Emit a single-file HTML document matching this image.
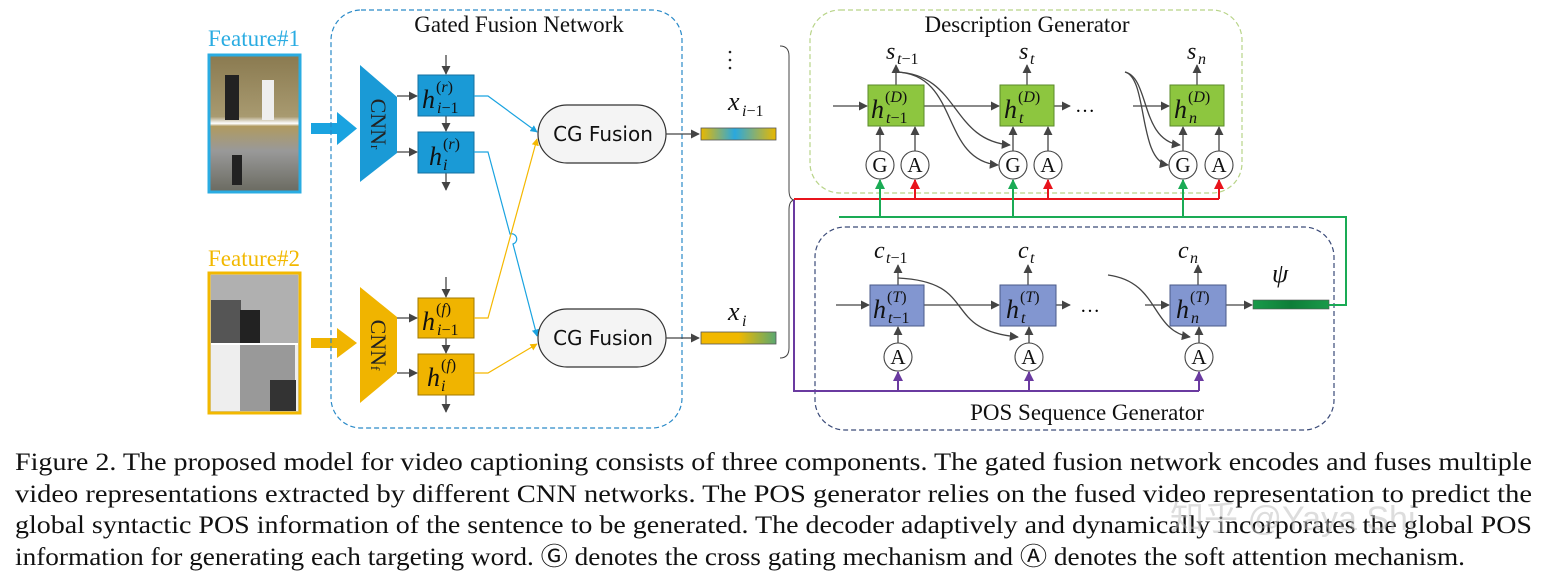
<!DOCTYPE html>
<html><head><meta charset="utf-8"><style>
html,body{margin:0;padding:0;background:#fff;}
svg{display:block;}
.t{font-family:"Liberation Serif",serif;}
.m{font-family:"Liberation Serif",serif;font-style:italic;}
.n{font-family:"Liberation Serif",serif;font-style:normal;}
.s{font-family:"DejaVu Sans","Liberation Sans",sans-serif;}
</style></head><body>
<svg width="1543" height="583" viewBox="0 0 1543 583" xmlns="http://www.w3.org/2000/svg">
<defs>
<marker id="ah" viewBox="0 0 10 10" refX="9" refY="5" markerWidth="7" markerHeight="7" orient="auto-start-reverse"><path d="M0,0L10,5L0,10z" fill="#444"/></marker>
<marker id="ab" viewBox="0 0 10 10" refX="9" refY="5" markerWidth="6" markerHeight="6" orient="auto"><path d="M0,0L10,5L0,10z" fill="#1aa3e0"/></marker>
<marker id="ay" viewBox="0 0 10 10" refX="9" refY="5" markerWidth="6" markerHeight="6" orient="auto"><path d="M0,0L10,5L0,10z" fill="#f5b800"/></marker>
<marker id="ag" viewBox="0 0 10 10" refX="9" refY="5" markerWidth="5" markerHeight="5" orient="auto"><path d="M0,0L10,5L0,10z" fill="#1aab55"/></marker>
<marker id="ar" viewBox="0 0 10 10" refX="9" refY="5" markerWidth="5" markerHeight="5" orient="auto"><path d="M0,0L10,5L0,10z" fill="#e8141c"/></marker>
<marker id="ap" viewBox="0 0 10 10" refX="9" refY="5" markerWidth="5" markerHeight="5" orient="auto"><path d="M0,0L10,5L0,10z" fill="#6a3aa0"/></marker>
<linearGradient id="g1" x1="0" x2="1"><stop offset="0" stop-color="#e8b800"/><stop offset="0.45" stop-color="#2aa8de"/><stop offset="1" stop-color="#e8b800"/></linearGradient>
<linearGradient id="g2" x1="0" x2="1"><stop offset="0" stop-color="#f2b800"/><stop offset="0.5" stop-color="#f0b800"/><stop offset="1" stop-color="#5aa870"/></linearGradient>
<linearGradient id="gp" x1="0" x2="1"><stop offset="0" stop-color="#1a9a4a"/><stop offset="0.5" stop-color="#0e7e38"/><stop offset="1" stop-color="#1a9a4a"/></linearGradient>
<linearGradient id="img1" x1="0" y1="0" x2="0" y2="1"><stop offset="0" stop-color="#8a7a50"/><stop offset="0.45" stop-color="#a89a70"/><stop offset="0.5" stop-color="#fff"/><stop offset="0.52" stop-color="#b09a60"/><stop offset="0.7" stop-color="#999"/><stop offset="1" stop-color="#6a6a60"/></linearGradient>
</defs>

<!-- Feature 1 -->
<text x="254" y="46" class="t" font-size="23" fill="#2aace2" text-anchor="middle">Feature#1</text>
<rect x="209" y="55" width="91" height="137" fill="url(#img1)" stroke="#2aace2" stroke-width="3"/>
<rect x="225" y="75" width="14" height="45" fill="#222"/><rect x="262" y="80" width="12" height="40" fill="#eee"/>
<rect x="232" y="155" width="10" height="30" fill="#222"/>
<!-- Feature 2 -->
<text x="254" y="266" class="t" font-size="23" fill="#f2b800" text-anchor="middle">Feature#2</text>
<rect x="209" y="273" width="91" height="140" fill="#c8c8c8" stroke="#f2b800" stroke-width="3"/>
<rect x="211" y="275" width="87" height="68" fill="#b0b0b0"/><rect x="211" y="300" width="30" height="43" fill="#555"/><rect x="240" y="310" width="20" height="33" fill="#222"/>
<rect x="211" y="343" width="87" height="2" fill="#fff"/>
<rect x="211" y="345" width="87" height="66" fill="#eee"/><rect x="240" y="345" width="55" height="66" fill="#999"/><rect x="270" y="380" width="26" height="31" fill="#333"/>

<path d="M311,123H337V112L357,128.5L337,145V134H311Z" fill="#1aa3e0"/>
<path d="M311,338H337V328L357,343L337,358V348H311Z" fill="#f0b400"/>

<rect x="331" y="10" width="351" height="418" rx="30" fill="none" stroke="#2a8ac8" stroke-width="1.2" stroke-dasharray="5,3"/>
<text x="519" y="32" class="t" font-size="23" text-anchor="middle" fill="#111">Gated Fusion Network</text>

<path d="M360,65L397,97V153L360,182Z" fill="#1a9ad6"/>
<text transform="translate(371,124) rotate(90)" class="t" font-size="22" text-anchor="middle" fill="#222">CNN<tspan font-size="13">r</tspan></text>
<path d="M360,287L397,317V372L360,403Z" fill="#f0b400"/>
<text transform="translate(371,345) rotate(90)" class="t" font-size="22" text-anchor="middle" fill="#222">CNN<tspan font-size="13">f</tspan></text>

<g stroke="#444" stroke-width="1.3" fill="none">
<line x1="397" y1="96" x2="417" y2="96" marker-end="url(#ah)"/>
<line x1="397" y1="152" x2="417" y2="152" marker-end="url(#ah)"/>
<line x1="397" y1="318" x2="417" y2="318" marker-end="url(#ah)"/>
<line x1="397" y1="373" x2="417" y2="373" marker-end="url(#ah)"/>
<line x1="446" y1="55" x2="446" y2="74" marker-end="url(#ah)"/>
<line x1="446" y1="116" x2="446" y2="131" marker-end="url(#ah)"/>
<line x1="446" y1="173" x2="446" y2="190" marker-end="url(#ah)"/>
<line x1="446" y1="277" x2="446" y2="297" marker-end="url(#ah)"/>
<line x1="446" y1="338" x2="446" y2="353" marker-end="url(#ah)"/>
<line x1="446" y1="395" x2="446" y2="412" marker-end="url(#ah)"/>
</g>
<rect x="418" y="75" width="56" height="41" fill="#1a9ad6" stroke="#1570a0"/>
<rect x="418" y="132" width="56" height="41" fill="#1a9ad6" stroke="#1570a0"/>
<rect x="418" y="298" width="56" height="40" fill="#f0b400" stroke="#a07800"/>
<rect x="418" y="354" width="56" height="41" fill="#f0b400" stroke="#a07800"/>
<g fill="#111" font-size="16">
<text x="422" y="108" class="m" font-size="26">h</text><text x="436" y="92" class="n">(<tspan class="m">r</tspan>)</text><text x="437" y="113" class="m">i<tspan class="n">−1</tspan></text>
<text x="429" y="165" class="m" font-size="26">h</text><text x="443" y="149" class="n">(<tspan class="m">r</tspan>)</text><text x="443" y="170" class="m">i</text>
<text x="422" y="330" class="m" font-size="26">h</text><text x="436" y="314" class="n">(<tspan class="m">f</tspan>)</text><text x="437" y="335" class="m">i<tspan class="n">−1</tspan></text>
<text x="427" y="386" class="m" font-size="26">h</text><text x="441" y="370" class="n">(<tspan class="m">f</tspan>)</text><text x="441" y="391" class="m">i</text>
</g>

<path d="M474,96H488L537,132" stroke="#1aa3e0" stroke-width="1.2" fill="none" marker-end="url(#ab)"/>
<path d="M474,152H488L510,234A4,4 0 0 1 513,244L537,336" stroke="#1aa3e0" stroke-width="1.2" fill="none" marker-end="url(#ab)"/>
<path d="M474,318H488L537,139" stroke="#f5b800" stroke-width="1.2" fill="none" marker-end="url(#ay)"/>
<path d="M474,373H488L537,344" stroke="#f5b800" stroke-width="1.2" fill="none" marker-end="url(#ay)"/>

<rect x="538" y="105" width="128" height="58" rx="29" fill="#f4f4f4" stroke="#333" stroke-width="1.2"/>
<rect x="538" y="309" width="128" height="58" rx="29" fill="#f4f4f4" stroke="#333" stroke-width="1.2"/>
<text x="603" y="141" class="s" font-size="20" text-anchor="middle" fill="#111">CG Fusion</text>
<text x="603" y="345" class="s" font-size="20" text-anchor="middle" fill="#111">CG Fusion</text>
<g stroke="#444" stroke-width="1.3"><line x1="666" y1="134" x2="699" y2="134" marker-end="url(#ah)"/><line x1="666" y1="338" x2="699" y2="338" marker-end="url(#ah)"/></g>
<rect x="701" y="128" width="75" height="12" fill="url(#g1)" stroke="#555" stroke-width="0.8"/>
<rect x="701" y="332" width="75" height="12" fill="url(#g2)" stroke="#555" stroke-width="0.8"/>
<g fill="#111" font-size="16">
<text x="728" y="110" class="m" font-size="26">x</text><text x="742" y="116" class="m">i<tspan class="n">−1</tspan></text>
<text x="728" y="320" class="m" font-size="26">x</text><text x="742" y="326" class="m">i</text>
</g>
<g fill="#222"><circle cx="730" cy="52" r="1.3"/><circle cx="730" cy="60" r="1.3"/><circle cx="730" cy="68" r="1.3"/></g>
<path d="M780,46Q789,46 789,56V190Q789,199 794,200Q789,201 789,210V348Q789,358 780,358" stroke="#444" stroke-width="1" fill="none"/>

<rect x="810" y="10" width="432" height="183" rx="30" fill="none" stroke="#b8d488" stroke-width="1.2" stroke-dasharray="5,3"/>
<text x="1027" y="32" class="t" font-size="23" text-anchor="middle" fill="#111">Description Generator</text>
<rect x="815" y="227" width="519" height="203" rx="30" fill="none" stroke="#3a4a78" stroke-width="1.2" stroke-dasharray="5,3"/>
<text x="1087" y="420" class="t" font-size="23" text-anchor="middle" fill="#111">POS Sequence Generator</text>

<g stroke="#444" stroke-width="1.3" fill="none">
<line x1="833" y1="106" x2="867" y2="106" marker-end="url(#ah)"/>
<line x1="924" y1="106" x2="999" y2="106" marker-end="url(#ah)"/>
<line x1="1054" y1="106" x2="1070" y2="106" marker-end="url(#ah)"/>
<line x1="1133" y1="106" x2="1169" y2="106" marker-end="url(#ah)"/>
<line x1="896" y1="85" x2="896" y2="65" marker-end="url(#ah)"/>
<line x1="1027" y1="85" x2="1027" y2="65" marker-end="url(#ah)"/>
<line x1="1197" y1="85" x2="1197" y2="65" marker-end="url(#ah)"/>
<line x1="880" y1="151" x2="880" y2="127" marker-end="url(#ah)"/>
<line x1="915" y1="151" x2="915" y2="127" marker-end="url(#ah)"/>
<line x1="1013" y1="151" x2="1013" y2="127" marker-end="url(#ah)"/>
<line x1="1048" y1="151" x2="1048" y2="127" marker-end="url(#ah)"/>
<line x1="1183" y1="151" x2="1183" y2="127" marker-end="url(#ah)"/>
<line x1="1219" y1="151" x2="1219" y2="127" marker-end="url(#ah)"/>
<path d="M896,72C960,74 950,140 1010,145" marker-end="url(#ah)"/>
<path d="M896,72C960,74 940,160 998,165" marker-end="url(#ah)"/>
<path d="M1125,72C1150,78 1140,140 1180,145" marker-end="url(#ah)"/>
<path d="M1125,72C1148,78 1138,160 1168,165" marker-end="url(#ah)"/>
<line x1="836" y1="305" x2="869" y2="305" marker-end="url(#ah)"/>
<line x1="924" y1="305" x2="999" y2="305" marker-end="url(#ah)"/>
<line x1="1056" y1="305" x2="1070" y2="305" marker-end="url(#ah)"/>
<line x1="1145" y1="305" x2="1169" y2="305" marker-end="url(#ah)"/>
<line x1="1226" y1="305" x2="1252" y2="305" marker-end="url(#ah)"/>
<line x1="898" y1="285" x2="898" y2="265" marker-end="url(#ah)"/>
<line x1="1028" y1="285" x2="1028" y2="265" marker-end="url(#ah)"/>
<line x1="1198" y1="285" x2="1198" y2="265" marker-end="url(#ah)"/>
<line x1="898" y1="343" x2="898" y2="327" marker-end="url(#ah)"/>
<line x1="1029" y1="343" x2="1029" y2="327" marker-end="url(#ah)"/>
<line x1="1199" y1="343" x2="1199" y2="327" marker-end="url(#ah)"/>
<path d="M898,278C980,282 940,330 1018,337" marker-end="url(#ah)"/>
<path d="M1108,275C1160,282 1150,330 1190,337" marker-end="url(#ah)"/>
</g>
<g fill="#8dc63f" stroke="#5a8a2a"><rect x="868" y="85" width="56" height="41"/><rect x="1000" y="85" width="54" height="41"/><rect x="1170" y="85" width="54" height="41"/></g>
<g fill="#8296d0" stroke="#4a5a88"><rect x="870" y="285" width="54" height="41"/><rect x="1000" y="285" width="56" height="41"/><rect x="1170" y="285" width="56" height="41"/></g>
<g fill="#111" font-size="16">
<text x="871" y="118" class="m" font-size="26">h</text><text x="885" y="102" class="n">(<tspan class="m">D</tspan>)</text><text x="886" y="123" class="m">t<tspan class="n">−1</tspan></text>
<text x="1004" y="118" class="m" font-size="26">h</text><text x="1018" y="102" class="n">(<tspan class="m">D</tspan>)</text><text x="1019" y="123" class="m">t</text>
<text x="1174" y="118" class="m" font-size="26">h</text><text x="1188" y="102" class="n">(<tspan class="m">D</tspan>)</text><text x="1189" y="123" class="m">n</text>
<text x="873" y="318" class="m" font-size="26">h</text><text x="887" y="302" class="n">(<tspan class="m">T</tspan>)</text><text x="888" y="323" class="m">t<tspan class="n">−1</tspan></text>
<text x="1006" y="318" class="m" font-size="26">h</text><text x="1020" y="302" class="n">(<tspan class="m">T</tspan>)</text><text x="1021" y="323" class="m">t</text>
<text x="1176" y="318" class="m" font-size="26">h</text><text x="1190" y="302" class="n">(<tspan class="m">T</tspan>)</text><text x="1191" y="323" class="m">n</text>
<text x="886" y="59" class="m" font-size="24">s</text><text x="897" y="64" class="m">t<tspan class="n">−1</tspan></text>
<text x="1019" y="59" class="m" font-size="24">s</text><text x="1030" y="64" class="m">t</text>
<text x="1187" y="59" class="m" font-size="24">s</text><text x="1198" y="64" class="m">n</text>
<text x="874" y="258" class="m" font-size="24">c</text><text x="886" y="263" class="m">t<tspan class="n">−1</tspan></text>
<text x="1018" y="258" class="m" font-size="24">c</text><text x="1030" y="263" class="m">t</text>
<text x="1178" y="258" class="m" font-size="24">c</text><text x="1190" y="263" class="m">n</text>
<text x="1272" y="282" class="m" font-size="26">ψ</text>
</g>
<text x="1085" y="112" class="t" font-size="20" text-anchor="middle">…</text>
<text x="1090" y="312" class="t" font-size="20" text-anchor="middle">…</text>
<rect x="1253" y="300" width="76" height="9" fill="url(#gp)" stroke="#555" stroke-width="0.6"/>

<g fill="#fff" stroke="#444" stroke-width="1.1">
<circle cx="880" cy="165" r="14"/><circle cx="915" cy="165" r="14"/>
<circle cx="1013" cy="165" r="14"/><circle cx="1048" cy="165" r="14"/>
<circle cx="1183" cy="165" r="14"/><circle cx="1219" cy="165" r="14"/>
<circle cx="898" cy="357" r="14"/><circle cx="1029" cy="357" r="14"/><circle cx="1199" cy="357" r="14"/>
</g>
<g class="t" font-size="21" text-anchor="middle" fill="#111">
<text x="880" y="172">G</text><text x="915" y="172">A</text>
<text x="1013" y="172">G</text><text x="1048" y="172">A</text>
<text x="1183" y="172">G</text><text x="1219" y="172">A</text>
<text x="898" y="364">A</text><text x="1029" y="364">A</text><text x="1199" y="364">A</text>
</g>

<g stroke-width="2" fill="none">
<path d="M794,199H1219" stroke="#e8141c"/>
<line x1="915" y1="199" x2="915" y2="180" stroke="#e8141c" marker-end="url(#ar)"/>
<line x1="1048" y1="199" x2="1048" y2="180" stroke="#e8141c" marker-end="url(#ar)"/>
<line x1="1219" y1="199" x2="1219" y2="180" stroke="#e8141c" marker-end="url(#ar)"/>
<path d="M839,217H1346V305H1329" stroke="#1aab55"/>
<line x1="880" y1="217" x2="880" y2="180" stroke="#1aab55" marker-end="url(#ag)"/>
<line x1="1013" y1="217" x2="1013" y2="180" stroke="#1aab55" marker-end="url(#ag)"/>
<line x1="1183" y1="217" x2="1183" y2="180" stroke="#1aab55" marker-end="url(#ag)"/>
<path d="M794,200V391H1199" stroke="#6a3aa0"/>
<line x1="898" y1="391" x2="898" y2="372" stroke="#6a3aa0" marker-end="url(#ap)"/>
<line x1="1029" y1="391" x2="1029" y2="372" stroke="#6a3aa0" marker-end="url(#ap)"/>
<line x1="1199" y1="391" x2="1199" y2="372" stroke="#6a3aa0" marker-end="url(#ap)"/>
</g>

<g class="t" font-size="25" fill="#111">
<text x="15" y="470" textLength="1517" lengthAdjust="spacingAndGlyphs">Figure 2. The proposed model for video captioning consists of three components. The gated fusion network encodes and fuses multiple</text>
<text x="15" y="502" textLength="1517" lengthAdjust="spacingAndGlyphs">video representations extracted by different CNN networks.  The POS generator relies on the fused video representation to predict the</text>
<text x="15" y="533" textLength="1517" lengthAdjust="spacingAndGlyphs">global syntactic POS information of the sentence to be generated.  The decoder adaptively and dynamically incorporates the global POS</text>
<text x="15" y="565" textLength="1450" lengthAdjust="spacingAndGlyphs">information for generating each targeting word. Ⓖ denotes the cross gating mechanism and Ⓐ denotes the soft attention mechanism.</text>
</g>
<text x="1170" y="530" font-family="'Liberation Sans','Noto Sans CJK SC',sans-serif" font-size="34" fill="#bbb" fill-opacity="0.5">知乎 @Yaya Shi</text>
</svg>
</body></html>
